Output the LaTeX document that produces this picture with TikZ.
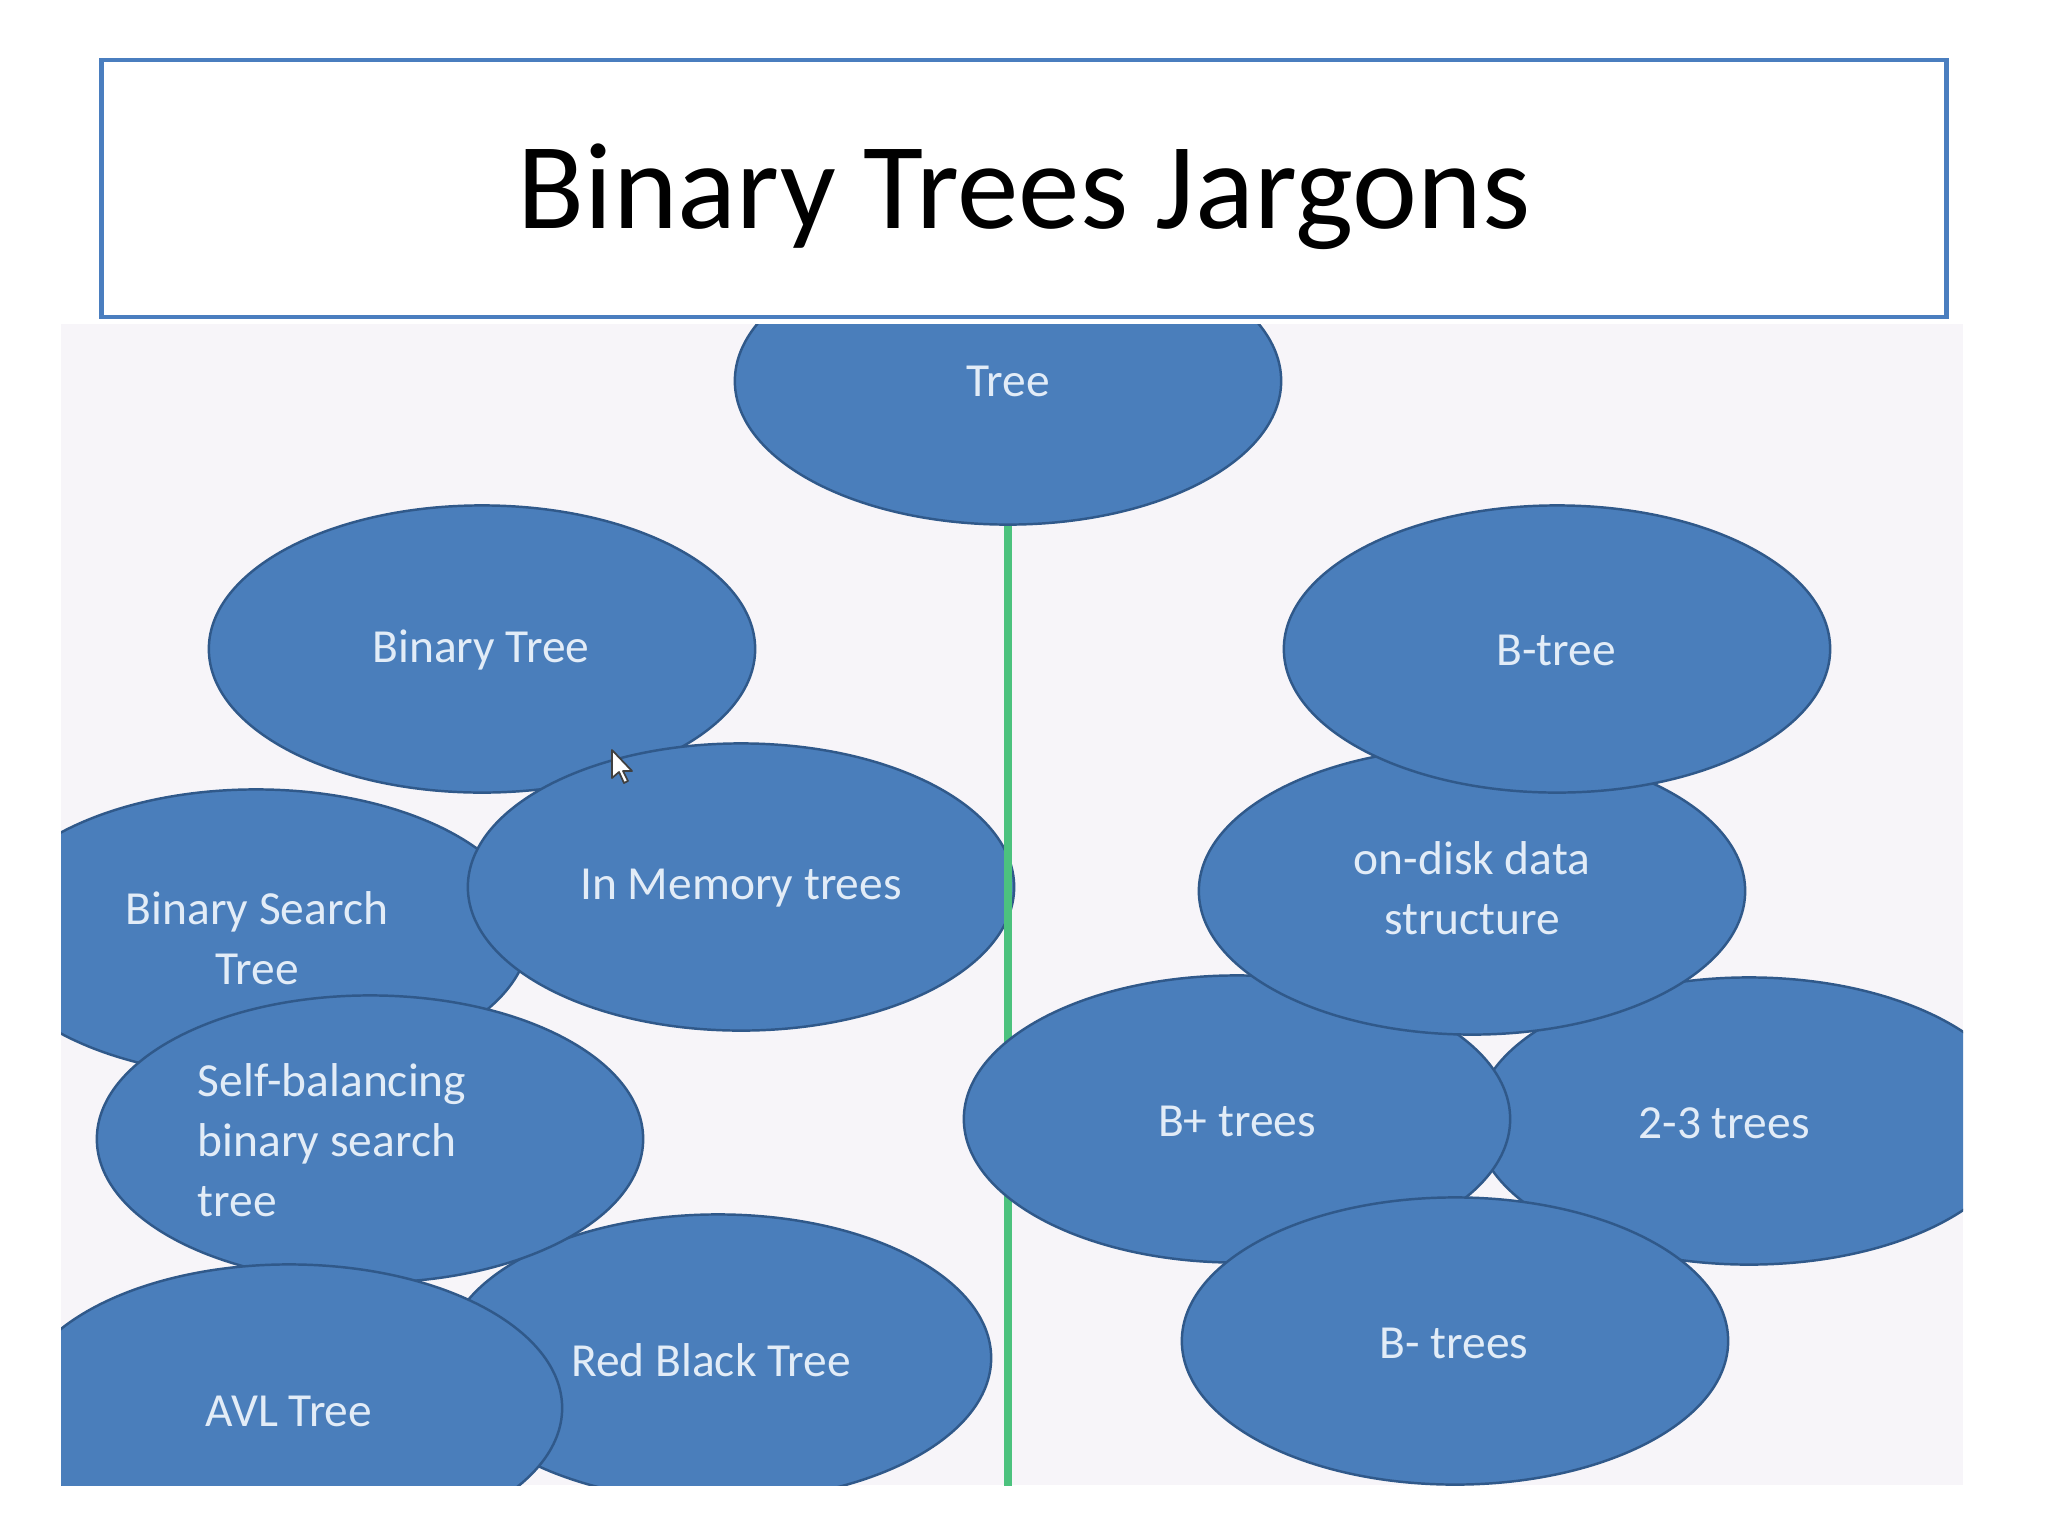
\documentclass[tikz,border=0pt]{standalone}
\usepackage{fontspec}
\setmainfont{Carlito}
\usetikzlibrary{shapes.geometric}
\definecolor{bfill}{HTML}{4A7EBB}
\definecolor{bline}{HTML}{30598A}
\definecolor{btext}{HTML}{E2ECF7}
\definecolor{panelc}{HTML}{F7F5F9}
\definecolor{gline}{HTML}{4CC27E}
\definecolor{tbox}{HTML}{4A7EBF}
\begin{document}
\begin{tikzpicture}[x=0.01cm,y=-0.01cm,
  oval/.style={ellipse, draw=bline, fill=bfill, line width=0.7pt, minimum width=5.46cm, minimum height=2.87cm, inner sep=0pt},
  lbl/.style={text=btext, font=\fontsize{13.5}{17}\selectfont, align=center, inner sep=0pt}]
\useasboundingbox (0,0) rectangle (2048,1536);
\fill[white] (0,0) rectangle (2048,1536);
% title
\node[draw=tbox, line width=1.2pt, minimum width=18.44cm, minimum height=2.57cm, inner sep=0pt] (titlebox) at (1024,188.5) {};
\node[inner sep=0pt, font=\fontsize{35}{40}\selectfont] (title) at (1024,197) {Binary Trees Jargons};
% panel
\fill[panelc] (61,324) rectangle (1963,1485);
\begin{scope}
\clip (61,324) rectangle (1963,1485);
% left side
\node[oval] (bt) at (482,649) {};
\node[lbl] (btt) at (481,650) {Binary Tree};
\node[oval] (bst) at (256,933) {};
\node[lbl] (bstt) at (257,938) {Binary Search\\Tree};
\node[oval] (imt) at (741,887) {};
\node[lbl] (imtt) at (741,888) {In Memory trees};
\node[oval] (rbt) at (718,1358) {};
\node[lbl] (rbtt) at (711,1360) {Red Black Tree};
\node[oval] (sbt) at (370,1139) {};
\node[lbl, anchor=west, align=left] (sbtt) at (197,1140) {Self-balancing\\binary search\\tree};
\node[oval] (avl) at (289,1408) {};
\node[lbl] (avlt) at (289,1411) {AVL Tree};
% root
\node[oval] (tree) at (1008,381) {};
\node[lbl] (treet) at (1008,381) {Tree};
\coordinate (gbot) at (1008,1490);
\draw[gline, line width=2.3pt] (tree.south) -- (gbot);
% right side
\node[oval] (tt) at (1749,1121) {};
\node[lbl] (ttt) at (1724,1123) {2-3 trees};
\node[oval] (bp) at (1237,1119) {};
\node[lbl] (bpt) at (1237,1121) {B+ trees};
\node[oval] (od) at (1472,891) {};
\node[lbl] (odt) at (1472,888) {on-disk data\\structure};
\node[oval] (bmt) at (1557,649) {};
\node[lbl] (bmtt) at (1556,650) {B-tree};
\node[oval] (bm) at (1455,1341) {};
\node[lbl] (bmt2) at (1454,1343) {B- trees};
% cursor
\filldraw[fill=white, draw=black!75, line width=0.5pt, line join=round]
  (612,750) -- ++(0,28) -- ++(7,-6) -- ++(5,11) -- ++(4,-2) -- ++(-5,-10) -- ++(9,0) -- cycle;
\end{scope}
\end{tikzpicture}
\end{document}
